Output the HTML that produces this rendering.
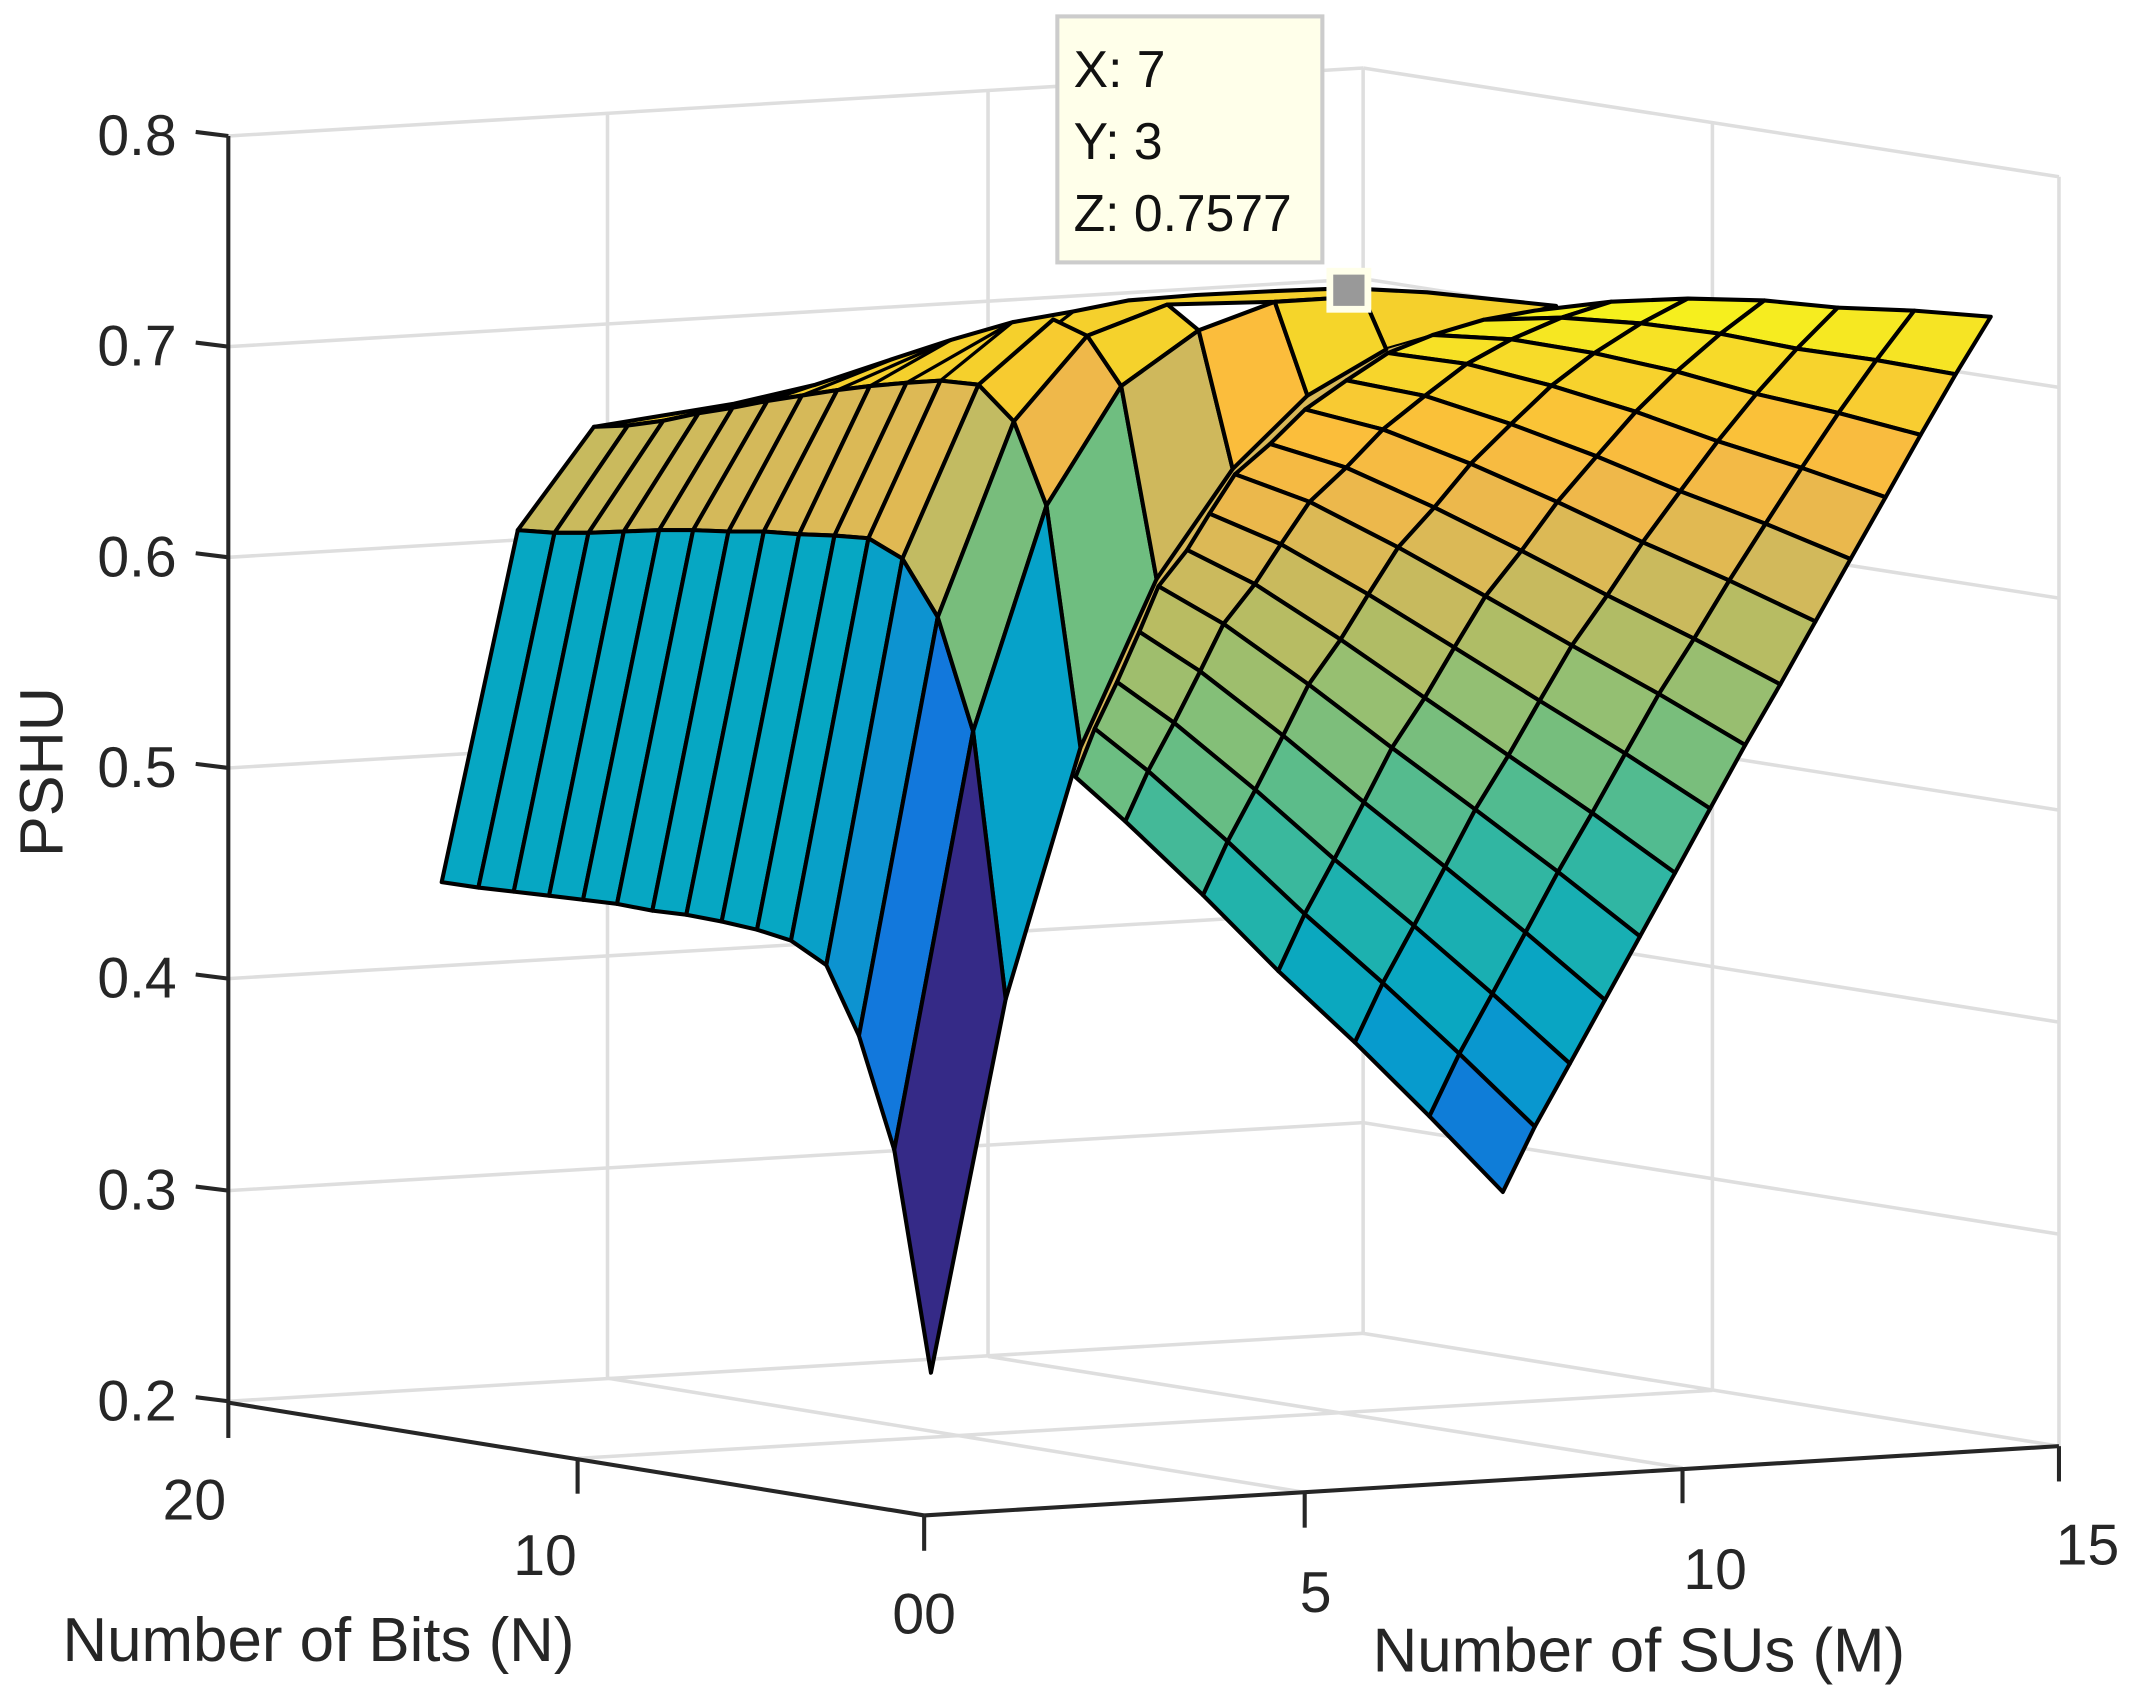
<!DOCTYPE html>
<html><head><meta charset="utf-8"><style>
html,body{margin:0;padding:0;background:#fff;}
svg{display:block;}
text{font-family:"Liberation Sans",sans-serif;fill:#262626;}
</style></head><body>
<svg id="s" width="2131" height="1699" viewBox="0 0 1568 1250" xmlns="http://www.w3.org/2000/svg">
<rect width="1568" height="1250" fill="#fff"/>
<g stroke="#dedede" stroke-width="2.6" fill="none">
<line x1="168" y1="100" x2="1003" y2="50"/>
<line x1="168" y1="255" x2="1003" y2="205"/>
<line x1="168" y1="410" x2="1003" y2="360"/>
<line x1="168" y1="565" x2="1003" y2="515"/>
<line x1="168" y1="720" x2="1003" y2="670"/>
<line x1="168" y1="876" x2="1003" y2="826"/>
<line x1="168" y1="1031" x2="1003" y2="981"/>
<line x1="1003" y1="50" x2="1515" y2="130"/>
<line x1="1003" y1="205" x2="1515" y2="285"/>
<line x1="1003" y1="360" x2="1515" y2="440"/>
<line x1="1003" y1="515" x2="1515" y2="596"/>
<line x1="1003" y1="670" x2="1515" y2="752"/>
<line x1="1003" y1="826" x2="1515" y2="908"/>
<line x1="1003" y1="981" x2="1515" y2="1064"/>
<line x1="447" y1="84" x2="447" y2="1014"/>
<line x1="727" y1="67" x2="727" y2="998"/>
<line x1="1003" y1="50" x2="1003" y2="981"/>
<line x1="1260" y1="90" x2="1260" y2="1023"/>
<line x1="1515" y1="130" x2="1515" y2="1064"/>
<line x1="425" y1="1073" x2="1260" y2="1023"/>
<line x1="447" y1="1014" x2="960" y2="1098"/>
<line x1="727" y1="998" x2="1238" y2="1080"/>
</g>
<g stroke="#262626" stroke-width="3" fill="none">
<line x1="168" y1="100" x2="168" y2="1032"/>
<line x1="168" y1="1032" x2="680" y2="1115"/>
<line x1="680" y1="1115" x2="1515" y2="1064"/>
<line x1="144" y1="97" x2="168" y2="100"/>
<line x1="144" y1="252" x2="168" y2="255"/>
<line x1="144" y1="407" x2="168" y2="410"/>
<line x1="144" y1="562" x2="168" y2="565"/>
<line x1="144" y1="717" x2="168" y2="720"/>
<line x1="144" y1="873" x2="168" y2="876"/>
<line x1="144" y1="1028" x2="168" y2="1031"/>
<line x1="168" y1="1032" x2="168" y2="1058"/>
<line x1="425" y1="1073" x2="425" y2="1099"/>
<line x1="680" y1="1115" x2="680" y2="1141"/>
<line x1="960" y1="1098" x2="960" y2="1124"/>
<line x1="1238" y1="1080" x2="1238" y2="1106"/>
<line x1="1515" y1="1064" x2="1515" y2="1090"/>
</g>
<g font-size="42" text-anchor="end">
<text x="130" y="114">0.8</text>
<text x="130" y="269">0.7</text>
<text x="130" y="424">0.6</text>
<text x="130" y="579">0.5</text>
<text x="130" y="734">0.4</text>
<text x="130" y="890">0.3</text>
<text x="130" y="1045">0.2</text>
</g>
<g font-size="42" text-anchor="middle">
<text x="143" y="1118">20</text>
<text x="401" y="1159">10</text>
<text x="680" y="1202">00</text>
<text x="968" y="1186">5</text>
<text x="1262" y="1169">10</text>
<text x="1536" y="1151">15</text>
</g>
<text x="46" y="1222" font-size="45.5">Number of Bits (N)</text>
<text x="1010" y="1230" font-size="45.5">Number of SUs (M)</text>
<text transform="translate(46,568) rotate(-90)" font-size="45" text-anchor="middle">PSHU</text>
<g id="surf" stroke="#000" stroke-width="3" stroke-linejoin="round"></g>
<rect x="778" y="12" width="195" height="181" fill="#ffffea" stroke="#cccccc" stroke-width="3"/>
<text x="790" y="64" font-size="38" style="fill:#111">X: 7</text>
<text x="790" y="117" font-size="38" style="fill:#111">Y: 3</text>
<text x="790" y="170" font-size="38" style="fill:#111">Z: 0.7577</text>
<rect x="976" y="197" width="33" height="33" fill="#ffffea"/>
<rect x="981" y="202" width="23" height="23" fill="#999"/>
</svg>
<script>
(function(){
var g=document.getElementById('surf');var NS='http://www.w3.org/2000/svg';
function poly(pts,fill,sw){var p=document.createElementNS(NS,'polygon');p.setAttribute('points',pts.map(function(a){return a[0].toFixed(1)+','+a[1].toFixed(1)}).join(' '));p.setAttribute('fill',fill);if(sw!==undefined)p.setAttribute('stroke-width',sw);if(sw===0)p.setAttribute('stroke','none');g.appendChild(p);}
function line(a,b){var l=document.createElementNS(NS,'line');l.setAttribute('x1',a[0]);l.setAttribute('y1',a[1]);l.setAttribute('x2',b[0]);l.setAttribute('y2',b[1]);l.setAttribute('stroke-width','2.4');g.appendChild(l);}
var tab=[[0,'#352a87'],[0.10,'#0868e0'],[0.17,'#1182d6'],[0.24,'#069fcc'],[0.31,'#0ba9be'],[0.38,'#22b3ab'],[0.45,'#40b99a'],[0.52,'#6fbe80'],[0.59,'#92bf73'],[0.66,'#b6bc63'],[0.73,'#d4b95a'],[0.80,'#efb84a'],[0.86,'#fbbd3c'],[0.92,'#f7d12e'],[1,'#f6f31c']];
function hx(h){return [parseInt(h.substr(1,2),16),parseInt(h.substr(3,2),16),parseInt(h.substr(5,2),16)];}
function cmap(f){f=Math.max(0,Math.min(1,f));for(var i=0;i<tab.length-1;i++){if(f<=tab[i+1][0]){var t=(f-tab[i][0])/(tab[i+1][0]-tab[i][0]);var a=hx(tab[i][1]),b=hx(tab[i+1][1]);return 'rgb('+[0,1,2].map(function(k){return Math.round(a[k]+(b[k]-a[k])*t)}).join(',')+')';}}return tab[tab.length-1][1];}
var ridge=[[437,314],[462,313],[488,309.5],[514,304],[539,300],[564.6,295],[590,291],[616,287],[640,284],[667,281.6],[692,280],[720,283]];
var back=[[437,314],[540,297],[600,283],[660,263],[700,250],[745,237],[790,229],[830,221],[880,217],[940,214],[992,212],[1050,215],[1145,225]];
var top=ridge.concat([[746,310],[800,247],[859,224],[938,222],[1003,218],[1020,257],[1078,240],[1129,229],[1145,225]]);
poly(top.concat(back.slice().reverse()),'#f5d02c');
for(var i=3;i<ridge.length;i++){var t=(i-3)/(ridge.length-3);var bx=back[2+Math.round(t*4)];line(ridge[i],bx);}
var T=[[381,390],[408,392],[433,392],[459,391],[485,390],[510,390],[536,391],[562,391],[588,393],[614,394],[639,396],[664,411],[690,454],[716,538]];
var B=[[325,649],[352,653],[378,656],[404,659],[429,662],[454,665],[480,670],[505,673],[531,678],[557,684],[582,692],[608,710],[632,762],[658,846]];
for(var i=0;i<11;i++){var f=0.70+0.06*i/10;poly([T[i],T[i+1],ridge[i+1],ridge[i]],cmap(f));}
poly([T[11],T[12],[746,310],ridge[11]],'#c2bb62');
for(var i=0;i<13;i++){var c='#06a7c3';if(i==10)c='#08a0c8';if(i==11)c='#0d93d0';if(i==12)c='#1278dc';poly([T[i],T[i+1],B[i+1],B[i]],c);}
poly([T[12],T[13],[770,372],[746,310]],'#78bd7c');
poly([ridge[11],[746,310],[800,247],[775,235]],'#f7cb30');
poly([[746,310],[770,372],[825,284],[800,247]],'#efb84a');
poly([[800,247],[825,284],[882,243],[859,224]],'#f5d22c');
function z3(p){return [772.6+0.4693*p[0],186.2+0.4457*p[1]];}
var L=[[760,95],[680,110],[600,135],[530,165],[465,210],[400,258],[345,315],[290,365],[250,430],[215,490],[170,550],[140,625],[105,708],[70,785],[40,865]].map(z3);
// filler behind seam
poly([[795,550],[851,426],[907,345],[962,291],[1020,257],[1078,240],[1129,229]].concat(L.slice()),'#d8b858',0);
poly([[770,372],[825,284],[851,426],[795,550]],'#6fbe80');
poly([[825,284],[882,243],[907,345],[851,426]],'#cfb85c');
poly([[882,243],[938,222],[962,291],[907,345]],'#fbbd3c');
poly([[938,222],[1003,218],[1020,257],[962,291]],'#f5d52a');
poly([[716,538],[770,372],[795,550],[740,735]],'#06a2c9');
poly([[716,538],[658,846],[685,1010],[740,735]],'#352a87');
var R=[[1475,105],[1420,200],[1365,300],[1310,403],[1255,505],[1200,608],[1145,712],[1090,812],[1035,917],[980,1023],[925,1128],[870,1233],[815,1338],[760,1442],[710,1550]].map(z3);
var TT=[[760,95],[880,80],[1000,75],[1120,78],[1235,90],[1355,95],[1475,105]].map(z3);
var BB=[[40,865],[118,938],[240,1060],[358,1185],[478,1303],[595,1425],[710,1550]].map(z3);
var NR=14,NC=6,P=[];
for(var r=0;r<=NR;r++){P.push([]);var v=r/NR;for(var c=0;c<=NC;c++){var u=c/NC;var pt=[0,1].map(function(k){return (1-v)*TT[c][k]+v*BB[c][k]+(1-u)*L[r][k]+u*R[r][k]-((1-u)*(1-v)*TT[0][k]+u*(1-v)*TT[NC][k]+(1-u)*v*BB[0][k]+u*v*BB[NC][k]);});P[r].push(pt);}}
for(var r=0;r<NR;r++)for(var c=0;c<NC;c++){var q=[P[r][c],P[r][c+1],P[r+1][c+1],P[r+1][c]];var cy=(q[0][1]+q[1][1]+q[2][1]+q[3][1])/4;var f=1-(cy-225)*0.9/640;poly(q,cmap(f));}
})();
</script>
</body></html>
